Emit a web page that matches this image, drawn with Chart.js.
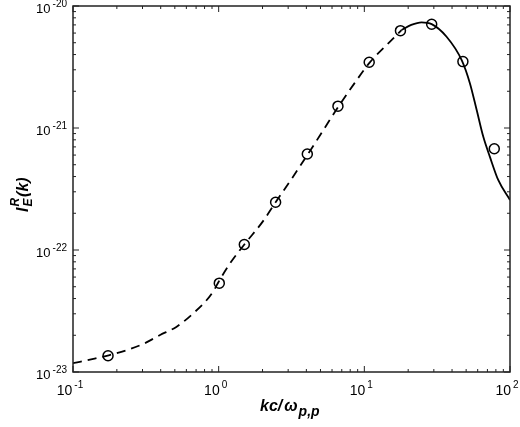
<!DOCTYPE html>
<html>
<head>
<meta charset="utf-8">
<script src="https://cdn.jsdelivr.net/npm/chart.js@4.4.0/dist/chart.umd.min.js"></script>
<style>
  body { margin: 0; background: #fff; }
  canvas { display: block; }
</style>
</head>
<body>
<canvas id="spectrum-chart" width="520" height="427"></canvas>
<script>
// values (k c / w_pp, I_E^R(k))
const dashedK = [0.1, 0.138, 0.176, 0.234, 0.304, 0.396, 0.515, 0.670, 0.828, 0.93, 1.0, 1.2, 1.5, 2.0, 2.46, 3.2, 4.06, 5.2, 6.59, 8.5, 10.8, 14.6, 18];
const dashedI = [1.18e-23, 1.28e-23, 1.37e-23, 1.51e-23, 1.70e-23, 2.01e-23, 2.35e-23, 3.03e-23, 3.89e-23, 4.7e-23, 5.5e-23, 7.8e-23, 1.11e-22, 1.7e-22, 2.46e-22, 3.9e-22, 6.0e-22, 9.5e-22, 1.48e-21, 2.3e-21, 3.4e-21, 4.94e-21, 6.35e-21];

const solidK = [18, 21, 24.7, 29, 36.7, 46.6, 53.1, 59.0, 65.5, 72.8, 83.0, 100];
const solidI = [6.35e-21, 7.0e-21, 7.35e-21, 7.1e-21, 5.6e-21, 3.6e-21, 2.32e-21, 1.41e-21, 8.5e-22, 5.8e-22, 3.75e-22, 2.57e-22];

const circleK = [0.174, 1.01, 1.50, 2.46, 4.06, 6.59, 10.8, 17.7, 29.0, 47.5, 78.0];
const circleI = [1.36e-23, 5.35e-23, 1.11e-22, 2.46e-22, 6.12e-22, 1.51e-21, 3.46e-21, 6.28e-21, 7.08e-21, 3.50e-21, 6.76e-22];

const kTicks = [0.1, 1, 10, 100];
const iTicks = [1e-23, 1e-22, 1e-21, 1e-20];

const FONT = '"Liberation Sans", Arial, Helvetica, sans-serif';

function exponentOf(value) {
    return String(Math.round(Math.log10(value)));
}

function toPoints(xs, ys) {
    return xs.map((x, i) => ({ x: x, y: ys[i] }));
}

function noPadding(s) {
    s.paddingLeft = 0;
    s.paddingRight = 0;
    s.paddingTop = 0;
    s.paddingBottom = 0;
}

// frame, inward ticks on all four sides, power-of-ten labels, axis titles
const frameAndTitles = {
    id: 'frameAndTitles',
    afterDraw(chart) {
        const ctx = chart.ctx;
        const a = chart.chartArea;
        const xs = chart.scales.x;
        const ys = chart.scales.y;

        ctx.save();
        ctx.strokeStyle = '#222';
        ctx.lineWidth = 1.5;
        ctx.strokeRect(a.left, a.top, a.right - a.left, a.bottom - a.top);

        ctx.lineWidth = 1;
        ctx.beginPath();
        for (let e = -1; e <= 2; e++) {
            for (let m = 1; m <= 9; m++) {
                const v = m * Math.pow(10, e);
                if (v > 100.0001) break;
                const px = xs.getPixelForValue(v);
                const len = m === 1 ? 6 : 3;
                ctx.moveTo(px, a.bottom); ctx.lineTo(px, a.bottom - len);
                ctx.moveTo(px, a.top); ctx.lineTo(px, a.top + len);
            }
        }
        for (let e = -23; e <= -20; e++) {
            for (let m = 1; m <= 9; m++) {
                const v = m * Math.pow(10, e);
                if (v > 1.0001e-20) break;
                const py = ys.getPixelForValue(v);
                const len = m === 1 ? 6 : 3;
                ctx.moveTo(a.left, py); ctx.lineTo(a.left + len, py);
                ctx.moveTo(a.right, py); ctx.lineTo(a.right - len, py);
            }
        }
        ctx.stroke();

        ctx.fillStyle = '#000';
        ctx.textBaseline = 'alphabetic';

        // x tick labels: 10 with raised exponent
        xs.ticks.forEach(t => {
            const px = xs.getPixelForValue(t.value);
            const ex = exponentOf(t.value);
            ctx.font = '14px ' + FONT;
            const wBase = ctx.measureText('10').width;
            ctx.font = '10px ' + FONT;
            const wExp = ctx.measureText(ex).width;
            let left = px - 3 - (wBase + 2 + wExp) / 2;
            ctx.textAlign = 'left';
            ctx.font = '14px ' + FONT;
            ctx.fillText('10', left, a.bottom + 23);
            ctx.font = '10px ' + FONT;
            ctx.fillText(ex, left + wBase + 2, a.bottom + 16);
        });

        // y tick labels
        ys.ticks.forEach(t => {
            const py = ys.getPixelForValue(t.value);
            const ex = exponentOf(t.value);
            ctx.textAlign = 'right';
            ctx.font = '10px ' + FONT;
            const right = a.left - 6;
            ctx.fillText(ex, right, py + 1);
            const wExp = ctx.measureText(ex).width;
            ctx.font = '13px ' + FONT;
            ctx.fillText('10', right - wExp - 2, py + 7);
        });

        // x title: kc/ω_{p,p}
        ctx.textAlign = 'left';
        let tx = 260;
        const ty = 411;
        ctx.font = 'italic bold 16px ' + FONT;
        ctx.fillText('kc/', tx, ty);
        tx += ctx.measureText('kc/').width + 2;
        ctx.fillText('\u03C9', tx, ty);
        tx += ctx.measureText('\u03C9').width + 1;
        ctx.font = 'italic bold 14px ' + FONT;
        ctx.fillText('p,p', tx, ty + 5);

        // y title: I_E^R(k)
        ctx.translate(28, 212);
        ctx.rotate(-Math.PI / 2);
        let yx = 0;
        ctx.font = 'italic bold 16px ' + FONT;
        ctx.fillText('I', yx, 0);
        yx += ctx.measureText('I').width + 1;
        ctx.font = 'italic bold 12px ' + FONT;
        ctx.fillText('R', yx, -9);
        ctx.fillText('E', yx, 4);
        yx += ctx.measureText('R').width + 1;
        ctx.font = 'italic bold 16px ' + FONT;
        ctx.fillText('(k)', yx, 0);
        ctx.restore();
    }
};

const canvas = document.getElementById('spectrum-chart');
const ctx = canvas.getContext('2d');

const spectrumChart = new Chart(ctx, {
    type: 'scatter',
    data: {
        datasets: [
            {
                label: 'dashed',
                data: toPoints(dashedK, dashedI),
                showLine: true,
                borderColor: '#000',
                borderWidth: 1.8,
                borderDash: [9, 6],
                pointRadius: 0,
                cubicInterpolationMode: 'monotone'
            },
            {
                label: 'solid',
                data: toPoints(solidK, solidI),
                showLine: true,
                borderColor: '#000',
                borderWidth: 1.8,
                pointRadius: 0,
                cubicInterpolationMode: 'monotone'
            },
            {
                label: 'circles',
                data: toPoints(circleK, circleI),
                showLine: false,
                borderColor: '#000',
                backgroundColor: 'rgba(255,255,255,0)',
                borderWidth: 1.5,
                pointRadius: 5,
                pointStyle: 'circle'
            }
        ]
    },
    options: {
        responsive: false,
        animation: false,
        layout: {
            autoPadding: false,
            padding: { top: 6, right: 10, left: 0, bottom: 0 }
        },
        plugins: {
            legend: { display: false },
            tooltip: { enabled: false }
        },
        scales: {
            x: {
                type: 'logarithmic',
                min: 0.1,
                max: 100,
                afterBuildTicks: s => { s.ticks = kTicks.map(v => ({ value: v })); },
                afterFit: s => { s.height = 55; noPadding(s); },
                grid: { display: false },
                border: { display: false },
                ticks: { display: false }
            },
            y: {
                type: 'logarithmic',
                min: 1e-23,
                max: 1e-20,
                afterBuildTicks: s => { s.ticks = iTicks.map(v => ({ value: v })); },
                afterFit: s => { s.width = 73; noPadding(s); },
                grid: { display: false },
                border: { display: false },
                ticks: { display: false }
            }
        }
    },
    plugins: [frameAndTitles]
});
</script>
</body>
</html>
